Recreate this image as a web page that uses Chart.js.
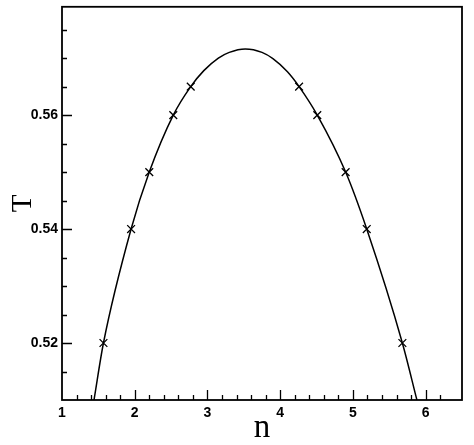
<!DOCTYPE html>
<html>
<head>
<meta charset="utf-8">
<script src="https://cdn.jsdelivr.net/npm/chart.js@4"></script>
<style>
  html, body { margin: 0; padding: 0; background: #fff; }
  #wrap { width: 474px; height: 445px; }
</style>
</head>
<body>
<div id="wrap"><canvas id="c" width="474" height="445"></canvas></div>
<script>
// Marker points (crosses)
const markerN = [1.57, 1.95, 2.20, 2.53, 2.77, 4.26, 4.51, 4.90, 5.19, 5.68];
const markerT = [0.520, 0.540, 0.550, 0.560, 0.565, 0.565, 0.560, 0.550, 0.540, 0.520];
// Smooth curve
const curveN = [1.44, 1.57, 1.95, 2.20, 2.53, 2.77, 2.95, 3.15, 3.30, 3.52, 3.75, 3.90, 4.10, 4.26, 4.51, 4.90, 5.19, 5.68, 5.88];
const curveT = [0.510, 0.520, 0.540, 0.550, 0.560, 0.565, 0.5678, 0.5700, 0.5710, 0.5716, 0.5710, 0.5699, 0.5676, 0.565, 0.560, 0.550, 0.540, 0.520, 0.510];
// Axis settings / tick labels
const xRange = [1, 6.5];
const yRange = [0.51, 0.579];
const xLabels = ['1', '2', '3', '4', '5', '6'];
const yLabels = ['0.52', '0.54', '0.56'];
const xTitle = 'n';
const yTitle = 'T';

const curveData = curveN.map((n, i) => ({ x: n, y: curveT[i] }));
const markerData = markerN.map((n, i) => ({ x: n, y: markerT[i] }));

const isMajorX = v => xLabels.includes(String(Math.round(v))) && Math.abs(v - Math.round(v)) < 1e-6;
const yLabelOf = v => {
  const s = v.toFixed(2);
  return (yLabels.includes(s) && Math.abs(v - parseFloat(s)) < 1e-6) ? s : '';
};

const frameTicks = {
  id: 'frameTicks',
  afterDraw(chart) {
    const { ctx, chartArea: a, scales } = chart;
    ctx.save();
    ctx.strokeStyle = '#000';
    ctx.lineWidth = 1.3;
    ctx.beginPath();
    scales.x.ticks.forEach(t => {
      const v = t.value;
      if (Math.abs(v - xRange[0]) < 1e-9 || Math.abs(v - xRange[1]) < 1e-9) return;
      const px = Math.round(scales.x.getPixelForValue(v)) + 0.5;
      const len = isMajorX(v) ? 10 : 5;
      ctx.moveTo(px, a.bottom);
      ctx.lineTo(px, a.bottom - len);
    });
    scales.y.ticks.forEach(t => {
      const v = t.value;
      if (Math.abs(v - yRange[0]) < 1e-9 || Math.abs(v - yRange[1]) < 1e-9) return;
      const py = Math.round(scales.y.getPixelForValue(v)) + 0.5;
      const len = yLabelOf(v) ? 10 : 5;
      ctx.moveTo(a.left, py);
      ctx.lineTo(a.left + len, py);
    });
    ctx.stroke();
    ctx.lineWidth = 1.8;
    ctx.strokeRect(a.left, a.top, a.right - a.left, a.bottom - a.top);
    ctx.restore();
  }
};

new Chart(document.getElementById('c'), {
  type: 'scatter',
  data: {
    datasets: [
      {
        data: curveData,
        showLine: true,
        borderColor: '#000',
        borderWidth: 1.5,
        pointRadius: 0,
        cubicInterpolationMode: 'monotone',
        fill: false
      },
      {
        data: markerData,
        showLine: false,
        pointStyle: 'crossRot',
        pointRadius: 5.5,
        borderColor: '#000',
        backgroundColor: '#000',
        pointBorderWidth: 1.3
      }
    ]
  },
  plugins: [frameTicks],
  options: {
    responsive: false,
    animation: false,
    devicePixelRatio: 1,
    layout: { padding: { top: 5, right: 12, left: 0, bottom: 0 } },
    plugins: { legend: { display: false }, tooltip: { enabled: false } },
    scales: {
      x: {
        type: 'linear',
        min: xRange[0], max: xRange[1],
        border: { display: false },
        grid: { display: false, drawTicks: false },
        ticks: {
          stepSize: 0.2,
          autoSkip: false,
          maxRotation: 0,
          padding: 5,
          color: '#000',
          font: { family: 'Liberation Sans', size: 14, weight: 'bold' },
          callback: v => isMajorX(v) ? String(Math.round(v)) : ''
        },
        title: {
          display: true, text: xTitle, color: '#000',
          font: { family: 'Liberation Serif', size: 33, lineHeight: 1 },
          padding: { top: 0, bottom: 0 }
        },
        afterFit: s => { s.height = 45; s.paddingLeft = 0; s.paddingRight = 0; }
      },
      y: {
        type: 'linear',
        min: yRange[0], max: yRange[1],
        border: { display: false },
        grid: { display: false, drawTicks: false },
        ticks: {
          stepSize: 0.005,
          autoSkip: false,
          padding: 4,
          color: '#000',
          font: { family: 'Liberation Sans', size: 14, weight: 'bold' },
          callback: v => yLabelOf(v)
        },
        title: {
          display: true, text: yTitle, color: '#000',
          font: { family: 'Liberation Serif', size: 29, lineHeight: 1 },
          padding: { top: 9, bottom: 0 }
        },
        afterFit: s => { s.width = 62; s.paddingTop = 0; s.paddingBottom = 0; }
      }
    }
  }
});
</script>
</body>
</html>
